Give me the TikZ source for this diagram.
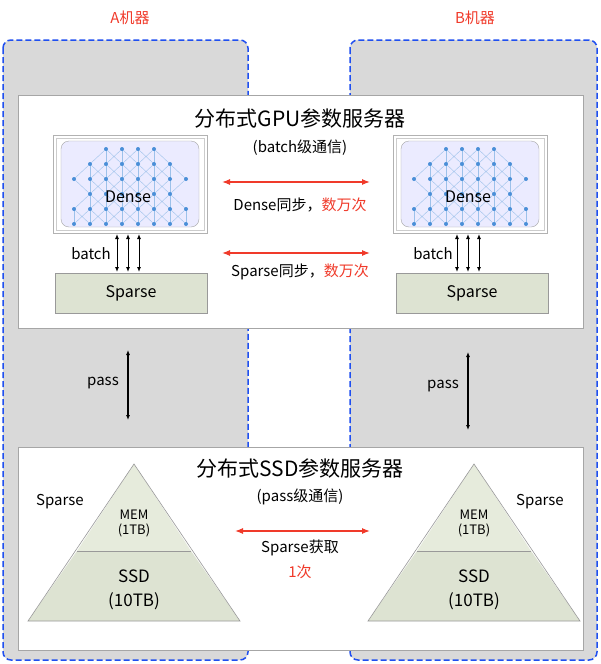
\documentclass[tikz,border=0pt]{standalone}
\usepackage{fontspec}
\setmainfont{Noto Sans CJK SC}
\usetikzlibrary{arrows.meta}
\definecolor{mgray}{HTML}{D9D9D9}
\definecolor{mblue}{HTML}{1F4FF0}
\definecolor{sgreen}{HTML}{DDE3D2}
\definecolor{pgreen}{HTML}{E6EBDC}
\definecolor{nblue}{HTML}{4A8FD8}
\definecolor{rred}{HTML}{F03A2A}
\tikzset{
 machine/.style={draw=mblue,fill=mgray,dashed,line width=1.5pt,dash pattern=on 6pt off 3pt,rounded corners=8pt},
 panel/.style={draw=black!35,fill=white,line width=0.6pt},
 sparsebox/.style={draw=black!40,fill=sgreen,line width=0.5pt},
 txt/.style={font=\fontsize{15}{17}\selectfont,inner sep=1pt},
 bigtxt/.style={font=\fontsize{21}{25}\selectfont,inner sep=1pt},
 dbl/.style={{Latex[length=5pt,width=4pt]}-{Latex[length=5pt,width=4pt]},line width=1pt},
 redarr/.style={{Latex[length=8pt,width=6pt]}-{Latex[length=8pt,width=6pt]},line width=1.2pt,draw=rred},
 tri/.style={draw=black!40,line width=0.6pt}
}
\newcommand{\densenet}[2]{%
 \foreach \r/\n in {0/4,1/6,2/8,3/6,4/8,5/8}{
   \foreach \i in {1,...,\n}{
     \coordinate (p\r-\i) at ({#1+(\i-(\n+1)/2)*16},{#2+\r*15});
   }
 }
 \foreach \r/\n/\m in {0/4/6,1/6/8,2/8/6,3/6/8,4/8/8}{
   \pgfmathtruncatemacro\rr{\r+1}
   \foreach \i in {1,...,\n}{\foreach \j in {1,...,\m}{
     \pgfmathsetmacro\dx{abs((\i-(\n+1)/2)-(\j-(\m+1)/2))}
     \ifdim\dx pt<1.6pt \draw[nblue!55,line width=0.4pt] (p\r-\i)--(p\rr-\j);\fi
   }}
 }
 \foreach \r/\n in {0/4,1/6,2/8,3/6,4/8,5/8}{\foreach \i in {1,...,\n}{\fill[nblue] (p\r-\i) circle (2pt);}}
}
\begin{document}
\begin{tikzpicture}[x=1pt,y=-1pt]
\useasboundingbox (0,0) rectangle (600,664);
\node[txt,text=rred] (la) at (130,18) {A机器};
\node[txt,text=rred] (lb) at (475,18) {B机器};
\draw[machine] (3,40) rectangle (248,660);
\draw[machine] (350,40) rectangle (597,660);
\draw[panel] (18,95) rectangle (583,328);
\draw[panel] (18,447) rectangle (583,650);
\node[bigtxt] (t1) at (300,118) {分布式GPU参数服务器};
\node[txt] (t1b) at (300,148) {(batch级通信)};
\node[bigtxt] (t2) at (300,468) {分布式SSD参数服务器};
\node[txt] (t2b) at (300,497) {(pass级通信)};
% dense boxes
\foreach \xa in {53,393}{
 \draw[black!30,fill=white,line width=0.6pt] (\xa,135) rectangle ++(154,98);
 \draw[black!20,fill=white] (\xa+3,138) rectangle ++(148,92);
 \draw[black!35,fill=blue!8,rounded corners=8pt] (\xa+8,141) rectangle ++(138,86);
 \densenet{\xa+77}{149}
}
\node[txt,font=\fontsize{16}{18}\selectfont] (dA) at (128,197) {Dense};
\node[txt,font=\fontsize{16}{18}\selectfont] (dB) at (468,197) {Dense};
\node[sparsebox,minimum width=152pt,minimum height=40pt,txt,font=\fontsize{16}{18}\selectfont] (sA) at (131,293) {Sparse};
\node[sparsebox,minimum width=152pt,minimum height=40pt,txt,font=\fontsize{16}{18}\selectfont] (sB) at (472,293) {Sparse};
\foreach \x in {117,128,139}{\draw[dbl] (\x,234)--(\x,272);}
\foreach \x in {457,468,479}{\draw[dbl] (\x,234)--(\x,272);}
\node[txt] (bA) at (91,254) {batch};
\node[txt] (bB) at (433,254) {batch};
\coordinate (r1a) at (222,182); \coordinate (r1b) at (370,182);
\draw[redarr] (r1a)--(r1b);
\node[txt] (r1t) at (300,205) {Dense同步，\textcolor{rred}{数万次}};
\coordinate (r2a) at (222,253); \coordinate (r2b) at (370,253);
\draw[redarr] (r2a)--(r2b);
\node[txt] (r2t) at (300,272) {Sparse同步，\textcolor{rred}{数万次}};
% pass
\draw[dbl,line width=1.3pt] (128,350)--(128,420);
\draw[dbl,line width=1.3pt] (468,352)--(468,430);
\node[txt] (pA) at (103,383) {pass};
\node[txt] (pB) at (443,386) {pass};
% pyramids
\foreach \cx in {134,474}{
 \fill[pgreen] (\cx,464)--(\cx+57,551)--(\cx-57,551)--cycle;
 \fill[sgreen] (\cx-57,551)--(\cx+57,551)--(\cx+106,621)--(\cx-106,621)--cycle;
 \draw[tri] (\cx,464)--(\cx+106,621)--(\cx-106,621)--cycle;
 \draw[tri] (\cx-57,551)--(\cx+57,551);
 \node[txt,font=\fontsize{13}{15}\selectfont,align=center] at (\cx,524) {MEM\\(1TB)};
 \node[txt,font=\fontsize{17}{24}\selectfont,align=center] at (\cx,590) {SSD\\(10TB)};
}
\node[txt] (spA) at (60,502) {Sparse};
\node[txt] (spB) at (540,502) {Sparse};
\coordinate (r3a) at (235,531); \coordinate (r3b) at (370,531);
\draw[redarr] (r3a)--(r3b);
\node[txt] (r3t) at (300,548) {Sparse获取};
\node[txt,text=rred] (r3n) at (300,572) {1次};
\end{tikzpicture}
\end{document}
